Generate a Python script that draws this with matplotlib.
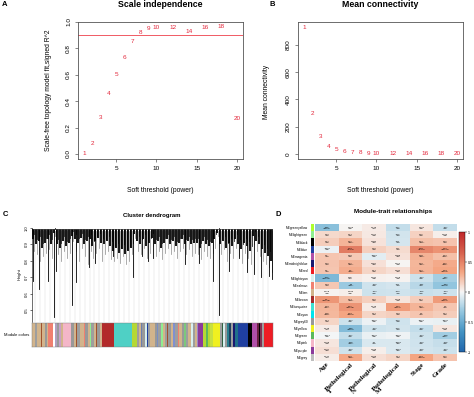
import math
import numpy as np
import matplotlib
matplotlib.use("Agg")
import matplotlib.pyplot as plt
from matplotlib.colors import LinearSegmentedColormap

plt.rcParams['font.family'] = ['Liberation Sans', 'DejaVu Sans']

# ---- panel A / B : soft threshold selection
powers = [1, 2, 3, 4, 5, 6, 7, 8, 9, 10, 12, 14, 16, 18, 20]
fit_r2 = [0.00, 0.076, 0.277, 0.46, 0.605, 0.728, 0.85, 0.92, 0.947, 0.96,
          0.96, 0.93, 0.96, 0.965, 0.27]
mean_k = [930, 300, 125, 58, 30, 17, 11, 7, 5, 3.5, 1.8, 1.0, 0.6, 0.4, 0.3]
r2_cut = 0.9

# ---- panel C : dendrogram (pixel positions, heights)
floor_pos = list(range(0, 243, 3))
black_floor = [0.93, 0.90, 0.92, 0.88, 0.91, 0.93, 0.90,
               0.97,
               0.90, 0.88, 0.92, 0.89, 0.91,
               0.95,
               0.93, 0.91, 0.94, 0.90, 0.92, 0.93, 0.89, 0.92, 0.94, 0.91, 0.90, 0.92, 0.89, 0.86,
               0.88, 0.85, 0.87, 0.84, 0.86, 0.88,
               0.96,
               0.92, 0.90, 0.93, 0.89, 0.91, 0.94, 0.90, 0.92, 0.88, 0.91, 0.93, 0.90, 0.92, 0.89,
               0.91, 0.93, 0.90, 0.92, 0.90, 0.91,
               0.91, 0.88, 0.92, 0.90, 0.89, 0.91, 0.93,
               0.97,
               0.90, 0.92, 0.88, 0.91, 0.89, 0.93, 0.90, 0.87, 0.91, 0.89, 0.86,
               0.95, 0.92, 0.90, 0.87, 0.85, 0.83, 0.80]
gray_floor = [0.86, 0.84, 0.80, 0.83, 0.85, 0.87, 0.82,
              0.95,
              0.84, 0.80, 0.86, 0.82, 0.85,
              0.92,
              0.86, 0.80, 0.88, 0.83, 0.78, 0.86, 0.82, 0.85, 0.88, 0.80, 0.84, 0.86, 0.81, 0.80,
              0.82, 0.79, 0.83, 0.78, 0.80, 0.84,
              0.94,
              0.86, 0.84, 0.88, 0.82, 0.85, 0.89, 0.83, 0.86, 0.81, 0.85, 0.88, 0.84, 0.86, 0.82,
              0.86, 0.88, 0.84, 0.87, 0.83, 0.85,
              0.84, 0.81, 0.86, 0.83, 0.82, 0.85, 0.88,
              0.95,
              0.84, 0.87, 0.80, 0.85, 0.82, 0.88, 0.83, 0.79, 0.85, 0.82, 0.78,
              0.90, 0.86, 0.83, 0.80, 0.78, 0.76, 0.73]
spike_pos = [0, 6, 15, 21, 23, 39, 43, 56, 63, 81, 101, 110, 116, 121,
             153, 167, 181, 188, 198, 208, 216, 223, 230, 238, 241]
spike_h = [0.68, 0.63, 0.68, 0.46, 0.74, 0.53, 0.67, 0.76, 0.79, 0.83, 0.70, 0.83,
           0.80, 0.82, 0.78, 0.79, 0.68, 0.47, 0.74, 0.82, 0.73, 0.72, 0.70, 0.71, 0.69]

module_cols = ['#d2b48c', '#9e9e9e', '#d2b48c', '#a0522d', '#d2b48c', '#999999', '#d2b48c',
               '#f08070', '#ffffff', '#b0a0c0', '#999999', '#c8a0c8', '#d2b48c', '#f4b6c8',
               '#999999', '#d2b48c', '#a0522d', '#9e9e9e', '#d2b48c', '#f08070', '#999999',
               '#d2b48c', '#90ee90', '#9e9e9e', '#d2b48c', '#a0522d', '#999999', '#d2b48c',
               '#b22a2a', '#4fd0c5', '#b5d834',
               '#9e9e9e', '#d2b48c', '#6a7fb0', '#999999', '#d8f0f0', '#1f3fa0', '#9e9e9e', '#d2b48c',
               '#d2b48c', '#999999', '#7b8fc4', '#9e9e9e', '#90ee90', '#d2b48c', '#9e9e9e', '#a0522d',
               '#999999', '#d2b48c', '#8090d0', '#9e9e9e', '#f08070', '#d2b48c', '#999999', '#7cc87c',
               '#9e9e9e', '#d2b48c', '#d8f0f0', '#9e9e9e', '#d2b48c', '#9a8ac8',
               '#8b3a9b', '#b5d834', '#5cb85c', '#b5d834', '#c8e040', '#f0f020',
               '#9e9e9e', '#2f5f3f', '#d8f0f0', '#999999', '#2a7f8f', '#1f3f5f', '#9e9e9e',
               '#191970', '#20708a', '#1f3fa0', '#000000', '#b04fa8',
               '#6a2040', '#000000', '#803050', '#9e9e9e', '#ee1c24']
module_w = [3, 2, 4, 1, 3, 2, 1,
            5, 2, 2, 2, 2, 2, 8,
            3, 2, 1, 3, 4, 1, 3, 2, 1, 3, 2, 1, 3, 2,
            12, 18, 5,
            2, 2, 1, 3, 2, 1, 2, 2,
            3, 2, 1, 3, 2, 2, 2, 1, 3, 2, 2, 3, 1, 3, 2, 2, 2, 3, 2, 2, 2, 1,
            5, 3, 2, 2, 3, 7,
            2, 1, 2, 2, 2, 2, 2,
            2, 3, 10, 4, 5,
            2, 1, 2, 2, 9]

# ---- panel D : module-trait correlations
traits = ['Age', 'Pathological\nT', 'Pathological\nN', 'Pathological\nM', 'Stage', 'Grade']
modules = ['MEgreenyellow', 'MElightgreen', 'MEblack', 'MEblue', 'MEmagenta', 'MEmidnightblue',
           'MEred', 'MElightcyan', 'MEsalmon', 'MEtan', 'MEbrown', 'MEturquoise', 'MEcyan',
           'MEgrey60', 'MEyellow', 'MEgreen', 'MEpink', 'MEpurple', 'MEgrey']
module_swatch = ['#adff2f', '#90ee90', '#000000', '#1f3fa0', '#b04fa8', '#191970', '#ee1c24',
                 '#d8f0f0', '#f08070', '#d2b48c', '#a52a2a', '#40e0d0', '#00e5ee', '#999999',
                 '#f0f020', '#5cb85c', '#f4b6c8', '#8b3a9b', '#bebebe']
cor = [[-0.36, 0.009, 0.049, -0.17, 0.064, -0.17],
       [0.12, 0.14, 0.061, -0.12, 0.15, 0.032],
       [0.17, 0.27, 0.085, -0.11, 0.22, 0.21],
       [-0.034, 0.53, 0.16, 0.11, 0.48, 0.42],
       [0.2, 0.18, -0.064, 0.088, 0.28, 0.22],
       [0.21, 0.27, 0.087, 0.014, 0.26, 0.31],
       [0.2, 0.3, 0.14, 0.094, 0.27, 0.33],
       [-0.42, 0.05, 0.031, 0.018, -0.14, -0.27],
       [0.19, -0.3, -0.13, -0.11, -0.21, -0.33],
       [0.018, 0.033, -0.14, -0.13, -0.15, -0.14],
       [0.4, 0.24, 0.16, 0.078, 0.17, 0.38],
       [0.26, 0.41, 0.049, 0.37, 0.27, 0.2],
       [0.25, 0.33, 0.14, 0.16, 0.2, 0.17],
       [0.14, -0.14, -0.035, -0.13, -0.032, -0.044],
       [0.048, -0.39, -0.14, -0.12, -0.17, 0.069],
       [-0.013, -0.17, -0.041, -0.031, -0.14, -0.28],
       [0.068, -0.28, -0.1, -0.098, -0.13, -0.16],
       [0.097, -0.13, 0.038, -0.087, -0.12, -0.14],
       [0.044, 0.32, 0.096, 0.14, 0.33, 0.21]]
n_samples = 60

W, H = 474, 397
fig = plt.figure(figsize=(W / 100, H / 100), dpi=100)


def box(x0, y0, x1, y1):
    # pixel box (from top-left) -> figure rect
    return [x0 / W, 1 - y1 / H, (x1 - x0) / W, (y1 - y0) / H]


def r_style(ax):
    for s in ax.spines.values():
        s.set_color('#555555')
        s.set_linewidth(0.6)
    ax.tick_params(length=2.5, width=0.5, color='#555555', labelsize=4.6, pad=2.5)
    for lab in ax.get_yticklabels():
        lab.set_rotation(90)
        lab.set_va('center')


red = '#e3283c'

# A
axA = fig.add_axes(box(78, 22, 243, 159))
axA.axhline(r2_cut, color='#f05a64', lw=0.7)
for p, v in zip(powers, fit_r2):
    axA.text(p, v, str(p), color=red, ha='center', va='center', fontsize=4.6)
axA.set_xlim(0.24, 20.76)
axA.set_ylim(-0.038, 1.0)
axA.set_xticks([5, 10, 15, 20])
axA.set_yticks([0.0, 0.2, 0.4, 0.6, 0.8, 1.0])
axA.set_yticklabels(['0.0', '0.2', '0.4', '0.6', '0.8', '1.0'])
r_style(axA)
fig.text(160.5 / W, 1 - 190 / H, 'Soft threshold (power)', ha='center', va='center', fontsize=4.9)
fig.text(48 / W, 1 - 90 / H, 'Scale-free topology model fit,signed R^2', rotation=90,
         ha='center', va='center', fontsize=4.9)
fig.text(160.5 / W, 1 - 4.5 / H, 'Scale independence', ha='center', va='center',
         fontsize=6.3, weight='bold')

# B
axB = fig.add_axes(box(298, 22, 463, 159))
for p, v in zip(powers, mean_k):
    axB.text(p, v, str(p), color=red, ha='center', va='center', fontsize=4.6)
axB.set_xlim(0.24, 20.76)
axB.set_ylim(-37, 967)
axB.set_xticks([5, 10, 15, 20])
axB.set_yticks([0, 200, 400, 600, 800])
r_style(axB)
fig.text(380.5 / W, 1 - 190 / H, 'Soft threshold (power)', ha='center', va='center', fontsize=4.9)
fig.text(267 / W, 1 - 92 / H, 'Mean connectivity', rotation=90,
         ha='center', va='center', fontsize=4.9)
fig.text(380.5 / W, 1 - 4.5 / H, 'Mean connectivity', ha='center', va='center',
         fontsize=6.3, weight='bold')

# C dendrogram
axC = fig.add_axes(box(32, 227, 273, 322))
for x in np.arange(2, 241, 5):
    axC.plot([x, x], [0.43, 0.9], color='#dcdcdc', lw=0.35, zorder=1)
for x, g in zip(floor_pos, gray_floor):
    axC.plot([x + 1, x + 1], [g, 0.98], color='#8a8a8a', lw=0.5, zorder=2)
for x, b in zip(floor_pos, black_floor):
    axC.plot([x, x], [b, 0.99], color='black', lw=1.3, zorder=3, solid_capstyle='butt')
    axC.plot([x + 1.5, x + 1.5], [b + 0.03, 0.99], color='#222222', lw=0.6, zorder=3)
for x, h in zip(spike_pos, spike_h):
    axC.plot([x, x], [h, 0.99], color='black', lw=0.6, zorder=3)
axC.plot([0, 241], [0.995, 0.995], color='#444444', lw=0.5, zorder=3)
axC.set_xlim(-1, 242)
axC.set_ylim(0.43, 1.005)
for s in ['top', 'right', 'bottom']:
    axC.spines[s].set_visible(False)
axC.spines['left'].set_linewidth(0.4)
axC.spines['left'].set_bounds(0.43, 1.0)
axC.set_xticks([])
axC.set_yticks([0.5, 0.6, 0.7, 0.8, 0.9, 1.0])
axC.tick_params(axis='y', length=1.5, width=0.4, labelsize=3, pad=1)
for lab in axC.get_yticklabels():
    lab.set_rotation(90)
    lab.set_va('center')
axC.set_ylabel('Height', fontsize=3, labelpad=2)

axM = fig.add_axes(box(32, 323, 273, 347))
left = 0
for c, w in zip(module_cols, module_w):
    axM.bar(left, 1, width=w, align='edge', color=c, lw=0)
    left += w
axM.set_xlim(0, sum(module_w))
axM.set_ylim(0, 1)
axM.set_xticks([])
axM.set_yticks([])
for s in axM.spines.values():
    s.set_linewidth(0.3)
    s.set_color('#777777')
axM.text(-0.012, 0.5, 'Module colors', transform=axM.transAxes, ha='right', va='center',
         fontsize=3)
fig.text(152 / W, 1 - 215 / H, 'Cluster dendrogram', ha='center', va='center',
         fontsize=4.3, weight='bold')

# D heatmap
cmap = LinearSegmentedColormap.from_list(
    'bwr_r', ['#2166ac', '#4393c3', '#92c5de', '#f7f7f7', '#f4a582', '#d6604d', '#c0282b'])
axD = fig.add_axes(box(315, 224, 457, 361))
mat = np.array(cor)
im = axD.imshow(mat, cmap=cmap, vmin=-1, vmax=1, aspect='auto', interpolation='nearest')
for i in range(mat.shape[0]):
    for j in range(mat.shape[1]):
        r = mat[i, j]
        t = abs(r) * math.sqrt((n_samples - 2) / (1 - r * r))
        pv = math.erfc(t / math.sqrt(2))
        axD.text(j, i, f"{r:.2g}\n({pv:.1g})", ha='center', va='center',
                 fontsize=1.7, linespacing=1.0)
axD.set_yticks(range(len(modules)))
axD.set_yticklabels(modules, fontsize=2.3)
axD.tick_params(axis='y', length=0, pad=5)
axD.set_xticks(range(len(traits)))
axD.set_xticklabels(traits, rotation=45, ha='right', va='top', rotation_mode='anchor',
                    fontsize=5.0, family=['Liberation Serif'], weight='bold',
                    multialignment='left', linespacing=0.95)
axD.tick_params(axis='x', length=0, pad=0.5)
for s in axD.spines.values():
    s.set_visible(False)
for i, c in enumerate(module_swatch):
    axD.add_patch(plt.Rectangle((-0.5 - 0.17, i - 0.5), 0.14, 1, color=c, clip_on=False, lw=0))

axCB = fig.add_axes(box(459, 232, 465, 352))
cb = fig.colorbar(im, cax=axCB, ticks=[-1, -0.5, 0, 0.5, 1])
cb.ax.set_yticklabels(['-1', '-0.5', '0', '0.5', '1'])
cb.ax.tick_params(labelsize=2.5, length=1.2, width=0.3, pad=0.8)
cb.outline.set_linewidth(0.3)
fig.text(393 / W, 1 - 211 / H, 'Module-trait relationships', ha='center', va='center',
         fontsize=4.6, weight='bold')

for lab, x, y in [('A', 5, 5), ('B', 272, 5), ('C', 5, 215), ('D', 278, 215)]:
    fig.text(x / W, 1 - y / H, lab, ha='center', va='center', fontsize=5.5, weight='bold')

fig.savefig('out.png', dpi=100)
